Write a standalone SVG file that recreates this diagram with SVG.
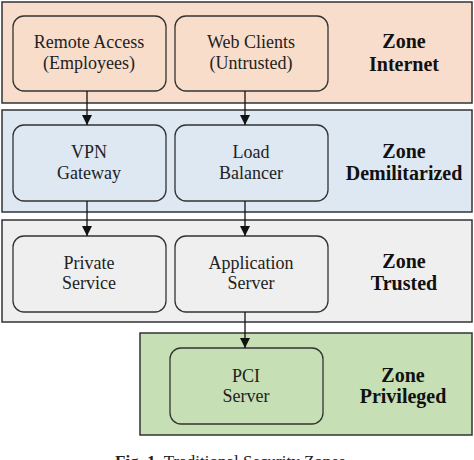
<svg xmlns="http://www.w3.org/2000/svg" width="474" height="460" viewBox="0 0 474 460">
<style>
.zone{stroke:#333;stroke-width:1.5}
.node{stroke:#333;stroke-width:1.3}
text{font-family:'Liberation Serif','Times New Roman','DejaVu Serif',serif}
.t{font-size:18px;fill:#222;text-anchor:middle}
.z{font-size:20px;font-weight:bold;fill:#111;text-anchor:middle}
.c{stroke:#111;stroke-width:1.3;fill:none}
</style>
<defs>
<marker id="ah" viewBox="0 0 10 10" refX="10" refY="5" markerWidth="10" markerHeight="10" markerUnits="userSpaceOnUse" orient="auto">
<path d="M0,0 L10,5 L0,10 Z" fill="#111"/>
</marker>
</defs>
<rect width="474" height="460" fill="#fff"/>
<g id="zone-internet">
<rect class="zone" x="2" y="2" width="470" height="101" fill="#f8ddcc" stroke="#5a4f4a"/>
<text class="z" x="404" y="48">Zone</text>
<text class="z" x="404" y="71">Internet</text>
</g>
<g id="zone-dmz">
<rect class="zone" x="2" y="110" width="470" height="102" fill="#dde8f3"/>
<text class="z" x="404" y="158">Zone</text>
<text class="z" x="404" y="180">Demilitarized</text>
</g>
<g id="zone-trusted">
<rect class="zone" x="2" y="220" width="470" height="102" fill="#efefef"/>
<text class="z" x="404" y="268">Zone</text>
<text class="z" x="404" y="290">Trusted</text>
</g>
<g id="zone-privileged">
<rect class="zone" x="140" y="333" width="332" height="102" fill="#c6dfb5"/>
<text class="z" x="403" y="382">Zone</text>
<text class="z" x="403" y="403">Privileged</text>
</g>
<g id="remote-access">
<rect class="node" x="13" y="16" width="153" height="75" rx="11" fill="#f8ddcb"/>
<text class="t" x="89" y="48">Remote Access</text>
<text class="t" x="89" y="69">(Employees)</text>
</g>
<g id="web-clients">
<rect class="node" x="175" y="16" width="153" height="75" rx="11" fill="#f8ddcb"/>
<text class="t" x="251" y="48">Web Clients</text>
<text class="t" x="251" y="69">(Untrusted)</text>
</g>
<g id="vpn-gateway">
<rect class="node" x="13" y="125" width="153" height="76" rx="11" fill="#dde8f3"/>
<text class="t" x="89" y="158">VPN</text>
<text class="t" x="89" y="179">Gateway</text>
</g>
<g id="load-balancer">
<rect class="node" x="175" y="125" width="153" height="76" rx="11" fill="#dde8f3"/>
<text class="t" x="251" y="158">Load</text>
<text class="t" x="251" y="179">Balancer</text>
</g>
<g id="private-service">
<rect class="node" x="13" y="236" width="153" height="76" rx="11" fill="#efefef"/>
<text class="t" x="89" y="269">Private</text>
<text class="t" x="89" y="289">Service</text>
</g>
<g id="application-server">
<rect class="node" x="175" y="236" width="153" height="76" rx="11" fill="#efefef"/>
<text class="t" x="251" y="269">Application</text>
<text class="t" x="251" y="289">Server</text>
</g>
<g id="pci-server">
<rect class="node" x="170" y="348" width="153" height="76" rx="11" fill="#c6dfb5"/>
<text class="t" x="246" y="382">PCI</text>
<text class="t" x="246" y="402">Server</text>
</g>
<g id="connectors">
<line class="c" x1="87" y1="91" x2="87" y2="125" marker-end="url(#ah)"/>
<line class="c" x1="245" y1="91" x2="245" y2="125" marker-end="url(#ah)"/>
<line class="c" x1="87" y1="201" x2="87" y2="236" marker-end="url(#ah)"/>
<line class="c" x1="245" y1="201" x2="245" y2="236" marker-end="url(#ah)"/>
<line class="c" x1="245" y1="312" x2="245" y2="348" marker-end="url(#ah)"/>
</g>
<text x="115" y="467" font-size="17" fill="#222"><tspan font-weight="bold">Fig. 1.</tspan> Traditional Security Zones</text>
</svg>
